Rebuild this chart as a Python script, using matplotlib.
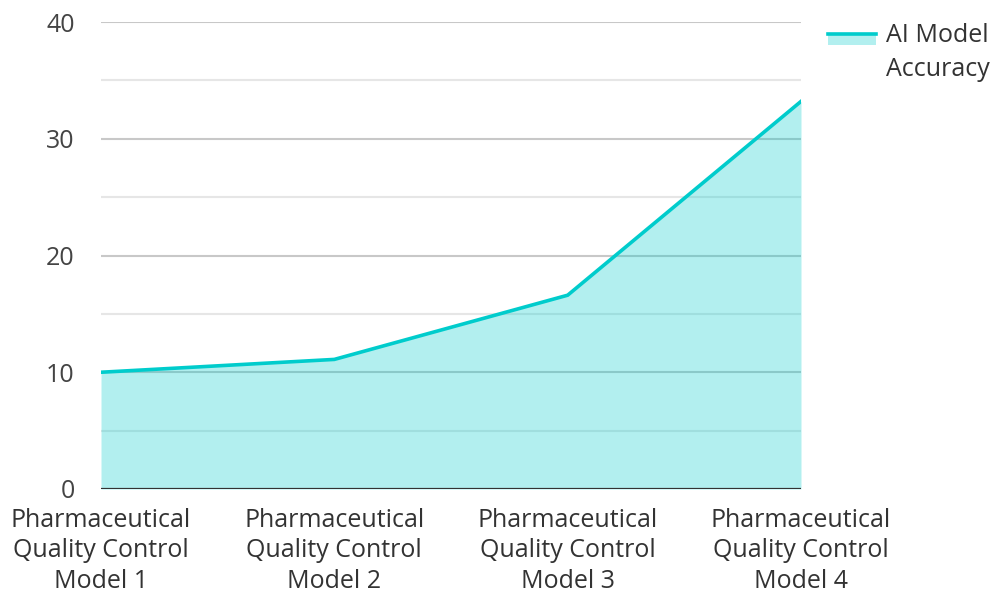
import matplotlib
matplotlib.use("Agg")
import matplotlib.pyplot as plt
from matplotlib.lines import Line2D
from matplotlib.patches import Rectangle

plt.rcParams['font.family'] = ['Open Sans', 'DejaVu Sans']

categories = [
    "Pharmaceutical\nQuality Control\nModel 1",
    "Pharmaceutical\nQuality Control\nModel 2",
    "Pharmaceutical\nQuality Control\nModel 3",
    "Pharmaceutical\nQuality Control\nModel 4",
]
accuracy = [10.0, 11.1, 16.6, 33.2]
series_name = "AI Model\nAccuracy"
y_ticks = [0, 10, 20, 30, 40]

line_color = "#00cccc"
text_color = "#333333"
fs = 18

fig = plt.figure(figsize=(9.92, 5.94), dpi=100)
ax = fig.add_axes([101 / 992, 1 - 489 / 594, 700 / 992, 467 / 594])

x = list(range(len(categories)))

# grid first, then the translucent area on top of it
for v in range(5, 40, 10):
    ax.axhline(v, color="#e6e6e6", lw=1.5, zorder=0)
for v in y_ticks[1:]:
    ax.axhline(v, color="#c8c8c8", lw=1.5, zorder=0)

ax.fill_between(x, accuracy, 0, color=line_color, alpha=0.3, lw=0, zorder=1)
ax.plot(x, accuracy, color=line_color, lw=2.6, zorder=3, solid_joinstyle="miter")
ax.axhline(0, color="#333333", lw=1.6, zorder=4)

ax.set_xlim(0, len(categories) - 1)
ax.set_ylim(0, 40)
ax.set_yticks(y_ticks)
ax.set_xticks(x)
ax.set_xticklabels(categories, fontsize=fs, color=text_color, linespacing=1.3)
ax.tick_params(axis="y", length=0, pad=19, labelsize=fs, labelcolor="#444444")
ax.tick_params(axis="x", length=0, pad=13.5)
for s in ax.spines.values():
    s.set_visible(False)

# legend swatch: thick line over a light filled band
fig.add_artist(Rectangle((828 / 992, 1 - 45 / 594), 48 / 992, 11 / 594,
                         transform=fig.transFigure, color=line_color, alpha=0.3, lw=0))
fig.add_artist(Line2D([828 / 992, 876 / 992], [1 - 33.5 / 594, 1 - 33.5 / 594],
                      transform=fig.transFigure, color=line_color, lw=2.6))
fig.text(886 / 992, 1 - 52.5 / 594, series_name, fontsize=fs, color=text_color,
         va="center", ha="left", linespacing=1.47)

fig.savefig("out.png", dpi=100)
